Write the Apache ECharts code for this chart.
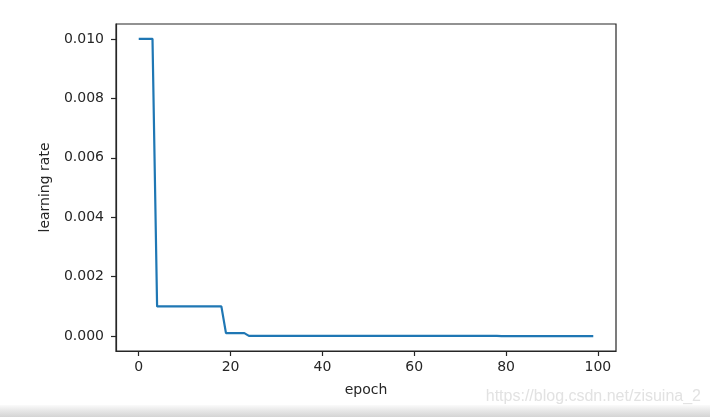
<!DOCTYPE html>
<html>
<head>
<meta charset="utf-8">
<script src="https://cdn.jsdelivr.net/npm/echarts@6/dist/echarts.min.js"></script>
<style>
html,body{margin:0;padding:0;background:#fff;}
#chart{width:710px;height:417px;}
</style>
</head>
<body>
<div id="chart"></div>
<script>
// learning rate per epoch (epoch = index 0..99)
const learningRate = [
  0.01, 0.01, 0.01, 0.01, 0.001, 0.001, 0.001, 0.001, 0.001, 0.001,
  0.001, 0.001, 0.001, 0.001, 0.001, 0.001, 0.001, 0.001, 0.001, 0.0001,
  0.0001, 0.0001, 0.0001, 0.0001, 1e-5, 1e-5, 1e-5, 1e-5, 1e-5, 1e-5,
  1e-5, 1e-5, 1e-5, 1e-5, 1e-5, 1e-5, 1e-5, 1e-5, 1e-5, 1e-5,
  1e-5, 1e-5, 1e-5, 1e-5, 1e-5, 1e-5, 1e-5, 1e-5, 1e-5, 1e-5,
  1e-5, 1e-5, 1e-5, 1e-5, 1e-5, 1e-5, 1e-5, 1e-5, 1e-5, 1e-5,
  1e-5, 1e-5, 1e-5, 1e-5, 1e-5, 1e-5, 1e-5, 1e-5, 1e-5, 1e-5,
  1e-5, 1e-5, 1e-5, 1e-5, 1e-5, 1e-5, 1e-5, 1e-5, 1e-5, 1e-6,
  1e-6, 1e-6, 1e-6, 1e-6, 1e-6, 1e-6, 1e-6, 1e-6, 1e-6, 1e-6,
  1e-6, 1e-6, 1e-6, 1e-6, 1e-6, 1e-6, 1e-6, 1e-6, 1e-6, 1e-6
];
const xTicks = [0, 20, 40, 60, 80, 100];
const yTicks = [0.000, 0.002, 0.004, 0.006, 0.008, 0.010];
const xName = 'epoch';
const yName = 'learning rate';
const watermark = 'https://blog.csdn.net/zisuina_2';

const seriesData = learningRate.map((v, i) => [i, v]);
const axisColor = '#262626';
const labelFont = { fontFamily: 'DejaVu Sans', fontSize: 14, color: '#262626' };

const chart = echarts.init(document.getElementById('chart'), null, { renderer: 'canvas' });
chart.setOption({
  animation: false,
  backgroundColor: '#ffffff',
  grid: {
    left: 116, right: 94, top: 24, bottom: 66,
    show: true, borderColor: axisColor, borderWidth: 1.2, backgroundColor: 'transparent'
  },
  xAxis: {
    type: 'value',
    min: -4.95, max: 103.95,
    name: xName,
    nameLocation: 'middle',
    nameGap: 32,
    nameTextStyle: { fontFamily: 'DejaVu Sans', fontSize: 14, color: '#262626' },
    axisLine: { show: true, onZero: false, lineStyle: { color: axisColor, width: 1.2 } },
    axisTick: { show: true, length: 5, customValues: xTicks, lineStyle: { color: axisColor, width: 1.2 } },
    axisLabel: Object.assign({ customValues: xTicks, margin: 9, formatter: v => String(Math.round(v)) }, labelFont),
    splitLine: { show: false }
  },
  yAxis: {
    type: 'value',
    min: -0.0005, max: 0.0105,
    name: yName,
    nameLocation: 'middle',
    nameGap: 64,
    nameRotate: 90,
    nameTextStyle: { fontFamily: 'DejaVu Sans', fontSize: 14, color: '#262626' },
    axisLine: { show: true, onZero: false, lineStyle: { color: axisColor, width: 1.2 } },
    axisTick: { show: true, length: 5, customValues: yTicks, lineStyle: { color: axisColor, width: 1.2 } },
    axisLabel: Object.assign({ customValues: yTicks, margin: 12, formatter: v => v.toFixed(3) }, labelFont),
    splitLine: { show: false }
  },
  series: [{
    type: 'line',
    data: seriesData,
    showSymbol: false,
    symbol: 'none',
    smooth: false,
    lineStyle: { color: '#1f77b4', width: 2.2 },
    clip: true
  }],
  graphic: [
    {
      type: 'rect',
      left: 0, top: 405,
      shape: { width: 710, height: 12 },
      style: {
        fill: new echarts.graphic.LinearGradient(0, 0, 0, 1, [
          { offset: 0, color: '#fbfbfb' },
          { offset: 0.5, color: '#e6e6e6' },
          { offset: 1, color: '#d4d4d4' }
        ])
      },
      silent: true
    },
    {
      type: 'text',
      right: 9, top: 389,
      style: {
        text: watermark,
        font: '16px "Liberation Sans", Arial, sans-serif',
        fill: '#e2e2e2'
      },
      silent: true
    }
  ]
});
</script>
</body>
</html>
